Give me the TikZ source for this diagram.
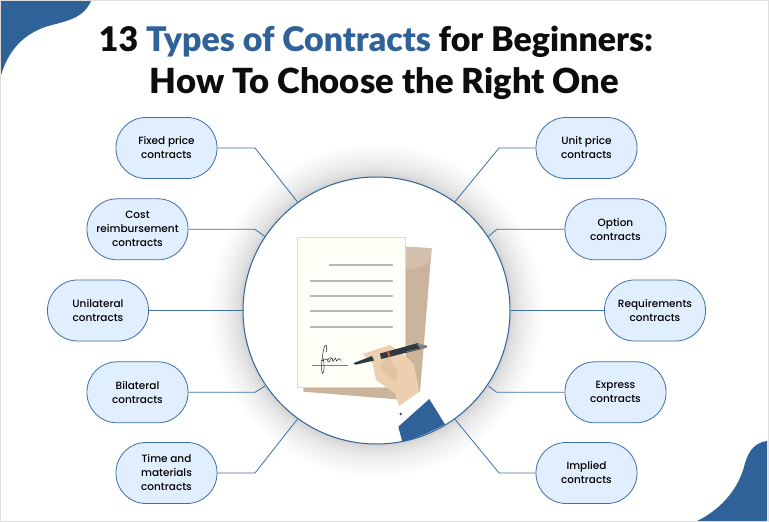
\documentclass[tikz,border=0pt]{standalone}
\usepackage{fontspec}
\setmainfont{Poppins Medium}
\newfontfamily\titlefont{Lato Black}
\definecolor{brand}{HTML}{2F6299}
\definecolor{pill}{HTML}{E1EEFD}
\definecolor{edgeblue}{HTML}{3F6FA6}
\definecolor{framegrey}{HTML}{DEDEDE}
\definecolor{paper}{HTML}{FFFEF6}
\definecolor{paperedge}{HTML}{E3D8C8}
\definecolor{env}{HTML}{CBB49C}
\definecolor{flap}{HTML}{D2BFAC}
\definecolor{skin}{HTML}{EBCFAF}
\definecolor{skindark}{HTML}{E2C4A2}
\definecolor{lineg}{HTML}{B7B7B7}
\definecolor{pen}{HTML}{2E3A42}
\definecolor{sig}{HTML}{4E9A78}
\tikzset{
  x=1pt,y=-1pt,
  pillbox/.style={draw=edgeblue,line width=0.8pt,fill=pill,rounded corners=30pt,minimum width=101pt,minimum height=61pt,align=center,font=\fontsize{10.5}{14}\selectfont,text=black,inner sep=0pt},
  wire/.style={draw=edgeblue,line width=0.8pt},
  title/.style={font=\titlefont,text=black!95,inner sep=0pt},
  rule/.style={draw=lineg,line width=1.7pt,line cap=round}
}
\begin{document}
\begin{tikzpicture}
\useasboundingbox (0,0) rectangle (769,522);
\fill[white] (0,0) rectangle (769,522);
% corner blobs
\fill[brand] (1,1) -- (91,1) .. controls (84,17) and (70,20) .. (56,24) .. controls (28,30) and (10,46) .. (1,75) -- cycle;
\fill[brand] (767,441) .. controls (752,443) and (747,455) .. (744,467) .. controls (737,492) and (718,511) .. (697,521) -- (767,521) -- cycle;
\draw[framegrey,line width=1.4pt] (0.7,0.7) rectangle (768.3,521.3);
% title
\node[title,anchor=base] (t1) at (376,51.5) {\fontsize{33.9}{36}\selectfont 13 \textcolor{brand}{Types of Contracts} for Beginners:};
\node[title,anchor=base] (t2) at (384.5,93) {\fontsize{34.6}{36}\selectfont How To Choose the Right One};
% shadow
\foreach \i in {1,...,26}{\fill[black,opacity=0.0095] (376.5,310.5) circle ({133.5+33*(\i/26)^2});}
% pills
\node[pillbox] (a1) at (166.5,148) {Fixed price\\contracts};
\node[pillbox] (a2) at (137.5,229.3) {Cost\\reimbursement\\contracts};
\node[pillbox] (a3) at (98,310.5) {Unilateral\\contracts};
\node[pillbox] (a4) at (137.5,392.3) {Bilateral\\contracts};
\node[pillbox] (a5) at (166.5,473) {Time and\\materials\\contracts};
\node[pillbox] (b1) at (586.5,148) {Unit price\\contracts};
\node[pillbox] (b2) at (615.5,229.3) {Option\\contracts};
\node[pillbox] (b3) at (655,310.5) {Requirements\\contracts};
\node[pillbox] (b4) at (615.5,392.3) {Express\\contracts};
\node[pillbox] (b5) at (586.5,473) {Implied\\contracts};
% hub
\node[circle,draw=brand,line width=1pt,fill=white,minimum size=267pt,inner sep=0pt] (hub) at (376.5,310.5) {};
% connectors
\coordinate (e1) at (297.3,201.7);
\coordinate (e2) at (265,236.5);
\coordinate (e4) at (265,386);
\coordinate (e5) at (297.3,419.3);
\coordinate (f1) at (455,201.7);
\coordinate (f2) at (488.3,236.5);
\coordinate (f4) at (488.3,386);
\coordinate (f5) at (455,419.3);
\draw[wire] (a1.east) -- (255,148) -- (e1);
\draw[wire] (a2.east) -- (255,229.3) -- (e2);
\draw[wire] (a3.east) -- (hub.west);
\draw[wire] (a4.east) -- (255,392.3) -- (e4);
\draw[wire] (a5.east) -- (255,473) -- (e5);
\draw[wire] (b1.west) -- (499,148) -- (f1);
\draw[wire] (b2.west) -- (496.7,229.3) -- (f2);
\draw[wire] (b3.west) -- (hub.east);
\draw[wire] (b4.west) -- (496.7,392.3) -- (f4);
\draw[wire] (b5.west) -- (499,473) -- (f5);
% envelope
\fill[env] (405,246.7) -- (431.7,248.3) -- (420,391.7) -- (396.7,399.3) -- (303.3,391.7) -- (303.3,385) -- cycle;
\fill[flap] (405,246.7) -- (431.7,248.3) -- (430.7,258) .. controls (428,265) and (418,269) .. (405,269.3) -- cycle;
% paper
\filldraw[fill=paper,draw=paperedge,line width=1pt] (297,237.3) rectangle (405.3,387.3);
\draw[rule] (329.5,265.3) -- (392.3,265.3);
\foreach \y in {280.7,296,311.3,326.7}{\draw[rule] (310.5,\y) -- (392.3,\y);}
% signature
\draw[sig,line width=1.2pt] (312,365.7) -- (347.7,365.7);
\draw[pen,line width=0.55pt] (326.5,352) .. controls (327.5,344) and (325.5,343) .. (324,348) .. controls (322,356) and (320.5,371) .. (322.5,373.5) .. controls (324.5,373) and (324.5,362) .. (323,358) (321,361) -- (327.5,359) (331,357.5) .. controls (327.5,358) and (326.5,362) .. (329,362) -- (332,358) -- (333,361.5) -- (335.5,358) -- (336.5,361) -- (339,358.5) -- (341,360.5);
\fill[pen] (342.7,362) circle (0.3);
% cuff and sleeve
\fill[white] (399.3,406) -- (419.3,391.7) -- (429.3,399) -- (398.3,426.7) -- cycle;
\fill[brand] (398.3,426.7) -- (429.3,399) -- (445,424.3) .. controls (431,432) and (417,438) .. (402.3,441.7) -- cycle;
\fill[black!70] (400.7,414) circle (1.4);
% hand
\fill[skin] (362.7,354) -- (390,345) -- (408,358) -- (414,365) -- (419.3,391.7) -- (399.3,406) -- (395,393.3) -- (376,380) -- (372.7,363.3) -- cycle;
\fill[skindark] (380,368) -- (388,354) -- (398,373) -- (396,382) -- (383,372) -- cycle;
% pen
\fill[pen] (353,363.3) -- (372,356) -- (374,360.5) -- (356,364.7) -- cycle;
\fill[pen] (380,353.5) -- (418,343) -- (421,349) -- (381,359) -- cycle;
\fill[black!50] (417,344) -- (421.7,344.5) -- (427,345.5) -- (427,347.5) -- (421,349.5) -- cycle;
\fill[black!45!lineg] (406,351.3) -- (419,348.2) -- (419,349.6) -- (407,352.6) -- cycle;
\fill[black!10] (351,364) -- (353.5,363) -- (355,364.7) -- cycle;
\fill[brown!70!red] (387,352) -- (389,351.4) -- (390.5,356.4) -- (388.5,356.9) -- cycle;
\end{tikzpicture}
\end{document}
